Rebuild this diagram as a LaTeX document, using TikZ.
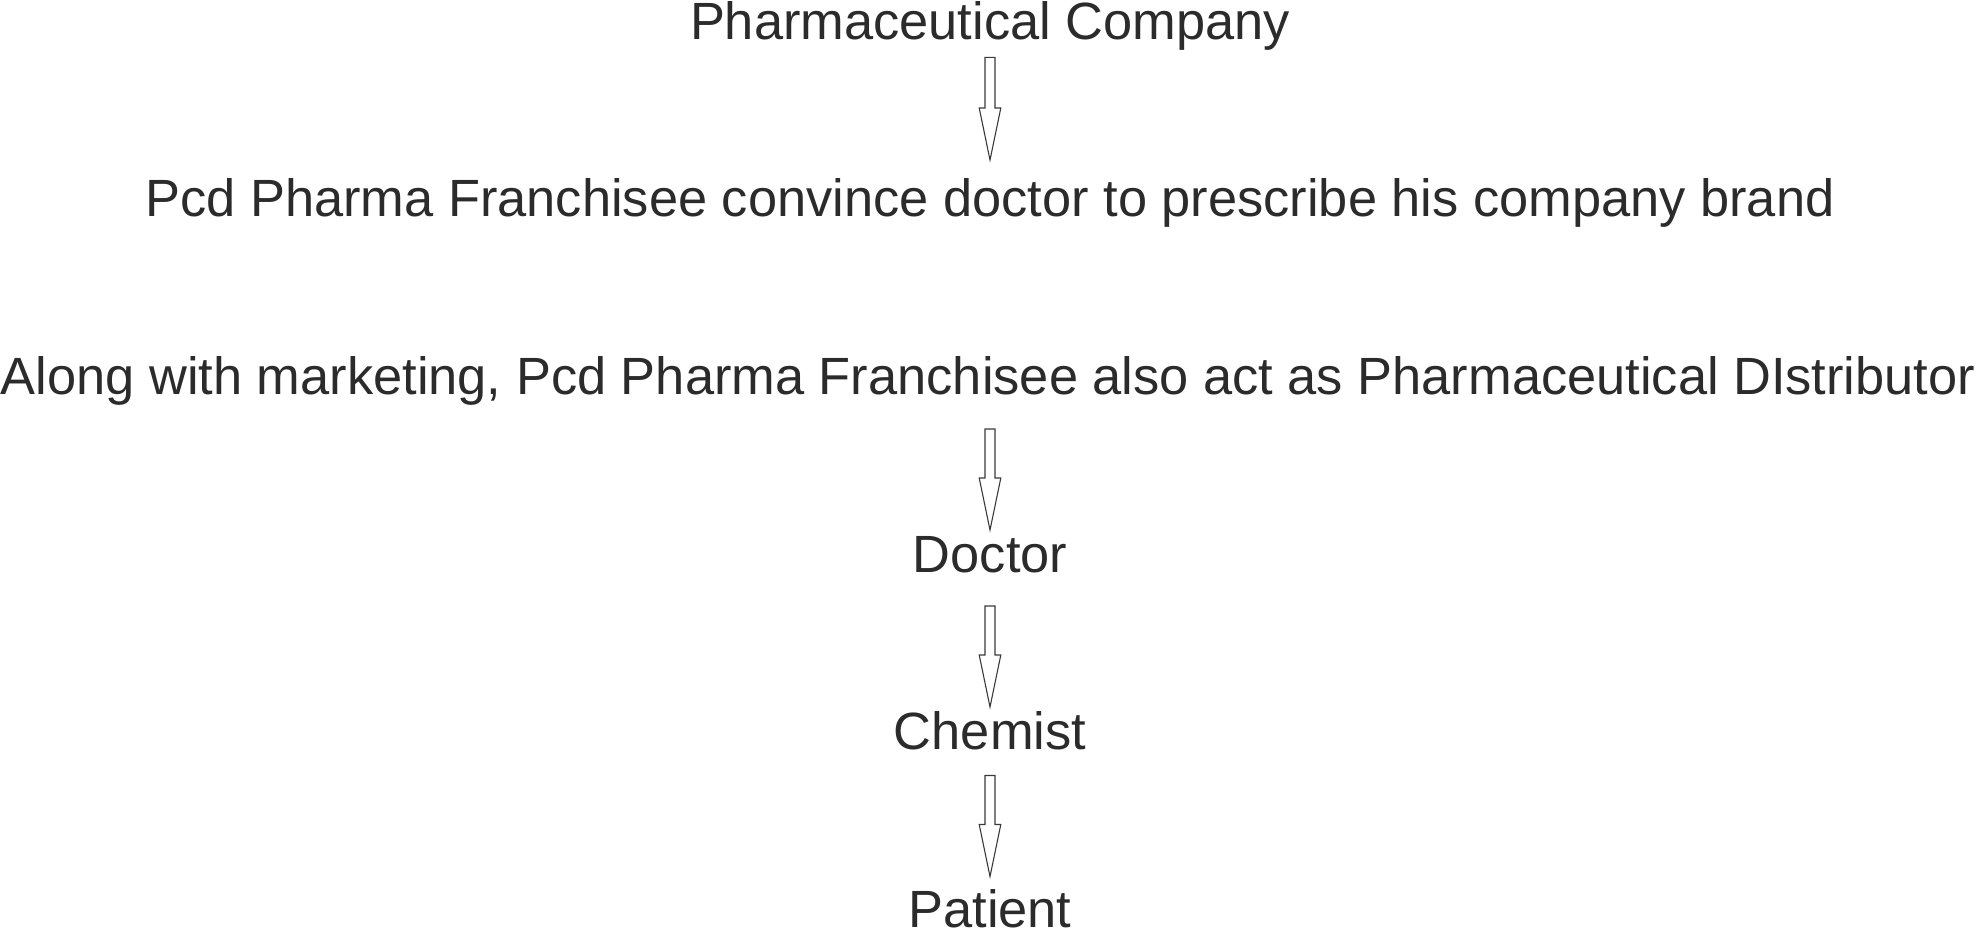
\documentclass[tikz,border=0pt]{standalone}
\usepackage{fontspec}
\setmainfont{Liberation Sans}
\usetikzlibrary{calc}
\definecolor{txt}{HTML}{2B2B2B}
\definecolor{arr}{HTML}{3A3A3A}
\tikzset{
  lbl/.style={anchor=base, inner sep=0pt, text=txt, font=\fontsize{52.4}{60}\selectfont},
  blk/.style={draw=arr, line width=1.1pt, fill=white, line join=miter}
}
\newcommand\blockarrow[2]{%
  \draw[blk] ($(#1)+(-5,0)$) -- ($(#1)+(5,0)$) -- ($(#2)+(5,-52)$) -- ($(#2)+(10.8,-52)$)
    -- (#2) -- ($(#2)+(-10.8,-52)$) -- ($(#2)+(-5,-52)$) -- cycle;}
\begin{document}
\begin{tikzpicture}[x=1pt,y=-1pt]
\useasboundingbox (0,0) rectangle (1980,929);
\node[lbl] (pc) at (990,39) {Pharmaceutical Company};
\node[lbl] (pf) at (990,216) {Pcd Pharma Franchisee convince doctor to prescribe his company brand};
\node[lbl] (al) at (988,394) {Along with marketing, Pcd Pharma Franchisee also act as Pharmaceutical DIstributor};
\node[lbl] (dr) at (990,572) {Doctor};
\node[lbl] (ch) at (990,749) {Chemist};
\node[lbl] (pt) at (990,927) {Patient};
\coordinate (a1s) at (990,57.3); \coordinate (a1e) at (990,160);
\coordinate (a2s) at (990,429);  \coordinate (a2e) at (990,530);
\coordinate (a3s) at (990,606);  \coordinate (a3e) at (990,707);
\coordinate (a4s) at (990,775.5);\coordinate (a4e) at (990,876.5);
\blockarrow{a1s}{a1e}
\blockarrow{a2s}{a2e}
\blockarrow{a3s}{a3e}
\blockarrow{a4s}{a4e}
\end{tikzpicture}
\end{document}
